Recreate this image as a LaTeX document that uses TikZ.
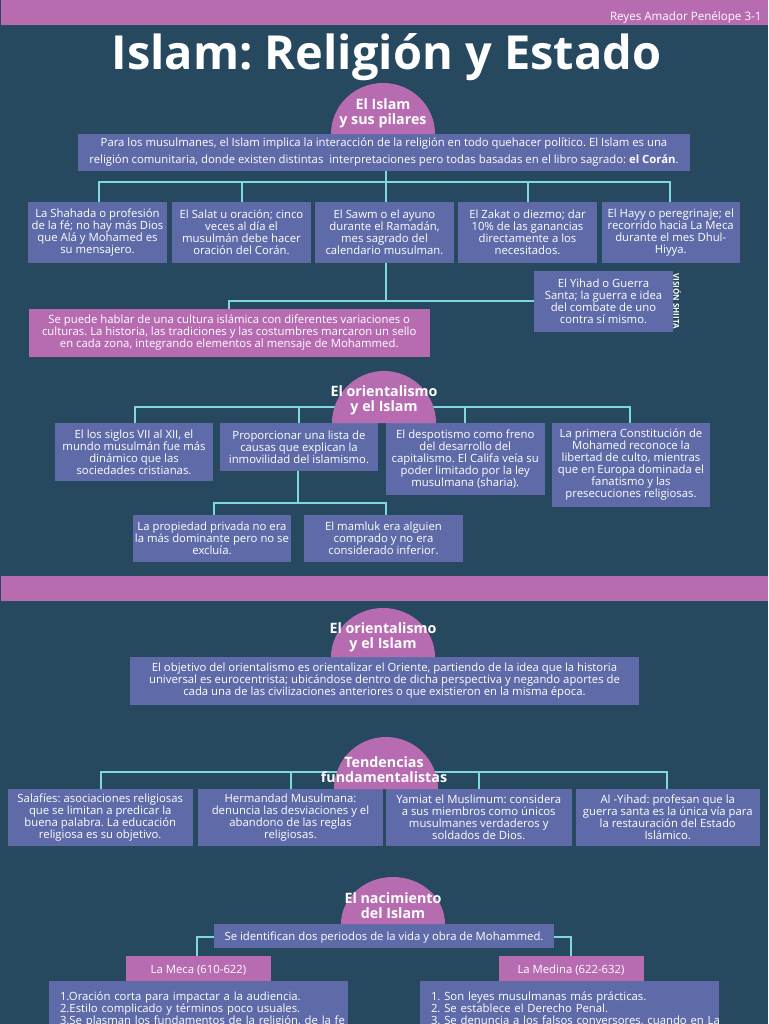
\documentclass[tikz,border=0pt]{standalone}
\usepackage{fontspec}
\setmainfont{Open Sans}
\definecolor{fondo}{RGB}{39,73,95}
\definecolor{rosa}{RGB}{183,108,178}
\definecolor{azul}{RGB}{95,107,168}
\definecolor{linea}{RGB}{127,217,220}
\tikzset{every picture/.style={line width=0.75pt}}
\tikzset{
  caja/.style 2 args={anchor=north west,inner sep=0pt,outer sep=0pt,fill=azul,text=white,align=center,
    minimum width=#1*0.75pt,minimum height=#2*0.75pt,font=\fontsize{8.5}{9}\selectfont,
    execute at begin node={\rule{0pt}{9pt}}},
  cajarosa/.style 2 args={caja={#1}{#2},fill=rosa},
  lista/.style={anchor=north west,inner xsep=0pt,inner ysep=8.25pt,outer sep=0pt,fill=azul,text=white,align=left,
    text width=224.25pt,font=\fontsize{8.5}{9}\selectfont,execute at begin node={\leftskip=8.25pt\relax}},
  domo/.style={fill=rosa},
  domotexto/.style={inner sep=0pt,text=white,align=center,font=\fontsize{10.7}{11.25}\selectfont\bfseries},
  conector/.style={draw=linea,line width=1.5pt},
}

\begin{document}
\frenchspacing
\begin{tikzpicture}[x=0.75pt,y=0.75pt,yscale=-1,xscale=1]
    \useasboundingbox (0,0) rectangle (768,1024);
    \clip (0,0) rectangle (768,1024);
    %Shape: Rectangle
    \fill [fondo] (0,0) rectangle (768,1024);
    %Shape: Rectangle
    \fill [rosa] (1,0) rectangle (768,25);
    %Shape: Rectangle
    \fill [rosa] (1,576) rectangle (768,601);

    % Text Node
    \draw (762,17) node (autora) [anchor=east,inner sep=0pt,text=white,font=\fontsize{8.7}{9}\selectfont] {Reyes Amador Penélope 3-1};
    % Text Node
    \draw (386.5,69.5) node (titulo) [anchor=base,inner sep=0pt,text=white,font=\fontsize{35.2}{36}\selectfont\bfseries] {Islam: Religión y Estado};

    %Shape: Rectangle
    \draw (78,134) node (intro) [caja={612}{37},font=\fontsize{8.5}{12.75}\selectfont] {Para los musulmanes, el Islam implica la interacción de la religión en todo quehacer político. El Islam es una\\religión comunitaria, donde existen distintas\ \ interpretaciones pero todas basadas en el libro sagrado: \textbf{el Corán}.};
    \draw (28,202) node (shahada) [caja={139}{61}] {La Shahada o profesión\\de la fé; no hay más Dios\\que Alá y Mohamed es\\su mensajero.};
    \draw (172,202) node (salat) [caja={139}{61}] {El Salat u oración; cinco\\veces al día el\\musulmán debe hacer\\oración del Corán.};
    \draw (315,202) node (sawm) [caja={139}{61}] {El Sawm o el ayuno\\durante el Ramadán,\\mes sagrado del\\calendario musulman.};
    \draw (458,202) node (zakat) [caja={139}{61}] {El Zakat o diezmo; dar\\10\% de las ganancias\\directamente a los\\necesitados.};
    \draw (601.5,202) node (hayy) [caja={138.5}{61}] {El Hayy o peregrinaje; el\\recorrido hacia La Meca\\durante el mes Dhul-\\Hiyya.};
    \draw (534,271) node (yihad) [caja={139}{61}] {El Yihad o Guerra\\Santa; la guerra e idea\\del combate de uno\\contra sí mismo.};
    \draw (29,309) node (cultura) [cajarosa={400.5}{48}] {Se puede hablar de una cultura islámica con diferentes variaciones o\\culturas. La historia, las tradiciones y las costumbres marcaron un sello\\en cada zona, integrando elementos al mensaje de Mohammed.};
    % Text Node
    \draw (677,301) node (shiita) [inner sep=0pt,rotate=-90,text=white,font=\fontsize{6}{6}\selectfont\bfseries] {VISIÓN SHIITA};

    %Shape: Rectangle
    \draw (55,423) node (siglos) [caja={158}{58}] {El los siglos VII al XII, el\\mundo musulmán fue más\\dinámico que las\\sociedades cristianas.};
    \draw (220,423) node (causas) [caja={158}{48}] {Proporcionar una lista de\\causas que explican la\\inmovilidad del islamismo.};
    \draw (386,423) node (despotismo) [caja={158.5}{72}] {El despotismo como freno\\del desarrollo del\\capitalismo. El Califa veía su\\poder limitado por la ley\\musulmana (sharia).};
    \draw (552,423) node (constitucion) [caja={158}{84}] {La primera Constitución de\\Mohamed reconoce la\\libertad de culto, mientras\\que en Europa dominada el\\fanatismo y las\\presecuciones religiosas.};
    \draw (133,515) node (propiedad) [caja={158}{47}] {La propiedad privada no era\\la más dominante pero no se\\excluía.};
    \draw (304,515) node (mamluk) [caja={159}{47}] {El mamluk era alguien\\comprado y no era\\considerado inferior.};

    %Shape: Rectangle
    \draw (130,657) node (objetivo) [caja={509}{48}] {El objetivo del orientalismo es orientalizar el Oriente, partiendo de la idea que la historia\\universal es eurocentrista; ubicándose dentro de dicha perspectiva y negando aportes de\\cada una de las civilizaciones anteriores o que existieron en la misma época.};
    \draw (7.5,789) node (salafies) [caja={185.5}{57}] {Salafíes: asociaciones religiosas\\que se limitan a predicar la\\buena palabra. La educación\\religiosa es su objetivo.};
    \draw (198,789) node (hermandad) [caja={185}{57}] {Hermandad Musulmana:\\denuncia las desviaciones y el\\abandono de las reglas\\religiosas.};
    \draw (386,789) node (yamiat) [caja={185.5}{57}] {Yamiat el Muslimum: considera\\a sus miembros como únicos\\musulmanes verdaderos y\\soldados de Dios.};
    \draw (575.5,789) node (alyihad) [caja={184.5}{57}] {Al -Yihad: profesan que la\\guerra santa es la única vía para\\la restauración del Estado\\Islámico.};

    %Shape: Rectangle
    \draw (214,924) node (periodos) [caja={340}{24}] {Se identifican dos periodos de la vida y obra de Mohammed.};
    \draw (126,956) node (meca) [cajarosa={145}{25}] {La Meca (610-622)};
    \draw (498.5,956) node (medina) [cajarosa={145}{25}] {La Medina (622-632)};
    \draw (49,981) node (listameca) [lista] {1.Oración corta para impactar a la audiencia.\\2.Estilo complicado y términos poco usuales.\\3.Se plasman los fundamentos de la religión, de la fe};
    \draw (420,981) node (listamedina) [lista] {1. Son leyes musulmanas más prácticas.\\2. Se establece el Derecho Penal.\\\mbox{3. Se denuncia a los falsos conversores, cuando en La}};

    %Straight Lines
    \coordinate (ejeA) at (386,182);
    \coordinate (izqA) at (99,182);
    \coordinate (derA) at (669.5,182);
    \draw [conector] (ejeA |- intro.south) -- (ejeA |- sawm.north);
    \draw [conector] (izqA |- shahada.north) -- (izqA) -- (derA) -- (derA |- hayy.north);
    \draw [conector] (ejeA -| salat.north) -- (salat.north);
    \draw [conector] (ejeA -| zakat.north) -- (zakat.north);
    %Straight Lines
    \coordinate (ejeB) at (386,301);
    \coordinate (izqB) at (229,301);
    \draw [conector] (ejeB |- sawm.south) -- (ejeB);
    \draw [conector] (izqB |- cultura.north) -- (izqB) -- (izqB -| yihad.west);
    %Straight Lines
    \coordinate (izqC) at (135,407);
    \coordinate (derC) at (630,407);
    \draw [conector] (izqC |- siglos.north) -- (izqC) -- (derC) -- (derC |- constitucion.north);
    \draw [conector] (izqC -| causas.north) -- (causas.north);
    \draw [conector] (izqC -| despotismo.north) -- (despotismo.north);
    %Straight Lines
    \coordinate (ejeD) at (298,503);
    \coordinate (izqD) at (214,503);
    \coordinate (derD) at (386,503);
    \draw [conector] (ejeD |- causas.south) -- (ejeD);
    \draw [conector] (izqD |- propiedad.north) -- (izqD) -- (derD) -- (derD |- mamluk.north);
    %Straight Lines
    \coordinate (izqE) at (101,772);
    \coordinate (derE) at (667,772);
    \draw [conector] (izqE |- salafies.north) -- (izqE) -- (derE) -- (derE |- alyihad.north);
    \draw [conector] (izqE -| hermandad.north) -- (hermandad.north);
    \draw [conector] (izqE -| yamiat.north) -- (yamiat.north);
    %Straight Lines
    \coordinate (codoI) at (197,937);
    \coordinate (codoD) at (571,937);
    \draw [conector] (codoI -| periodos.west) -- (codoI) -- (codoI |- meca.north);
    \draw [conector] (codoD -| periodos.east) -- (codoD) -- (codoD |- medina.north);

    %Shape: Arc
    \fill [domo] (331,134) arc [start angle=180,end angle=360,x radius=52,y radius=51] -- cycle;
    \fill [domo] (332,423) arc [start angle=180,end angle=360,x radius=52,y radius=52] -- cycle;
    \fill [domo] (331,657) arc [start angle=180,end angle=360,x radius=52,y radius=49] -- cycle;
    \fill [domo] (334,789) arc [start angle=180,end angle=360,x radius=52,y radius=52] -- cycle;
    \fill [domo] (341,924) arc [start angle=180,end angle=360,x radius=52,y radius=47] -- cycle;

    % Text Node
    \draw (383,113) node (pilares) [domotexto] {El Islam\\y sus pilares};
    % Text Node
    \draw (384,400) node (orientalismoA) [domotexto] {El orientalismo\\y el Islam};
    % Text Node
    \draw (383,637) node (orientalismoB) [domotexto] {El orientalismo\\y el Islam};
    % Text Node
    \draw (384,769.5) node (tendencias) [domotexto] {Tendencias\\fundamentalistas};
    % Text Node
    \draw (393,906) node (nacimiento) [domotexto] {El nacimiento\\del Islam};

\end{tikzpicture}
\end{document}
